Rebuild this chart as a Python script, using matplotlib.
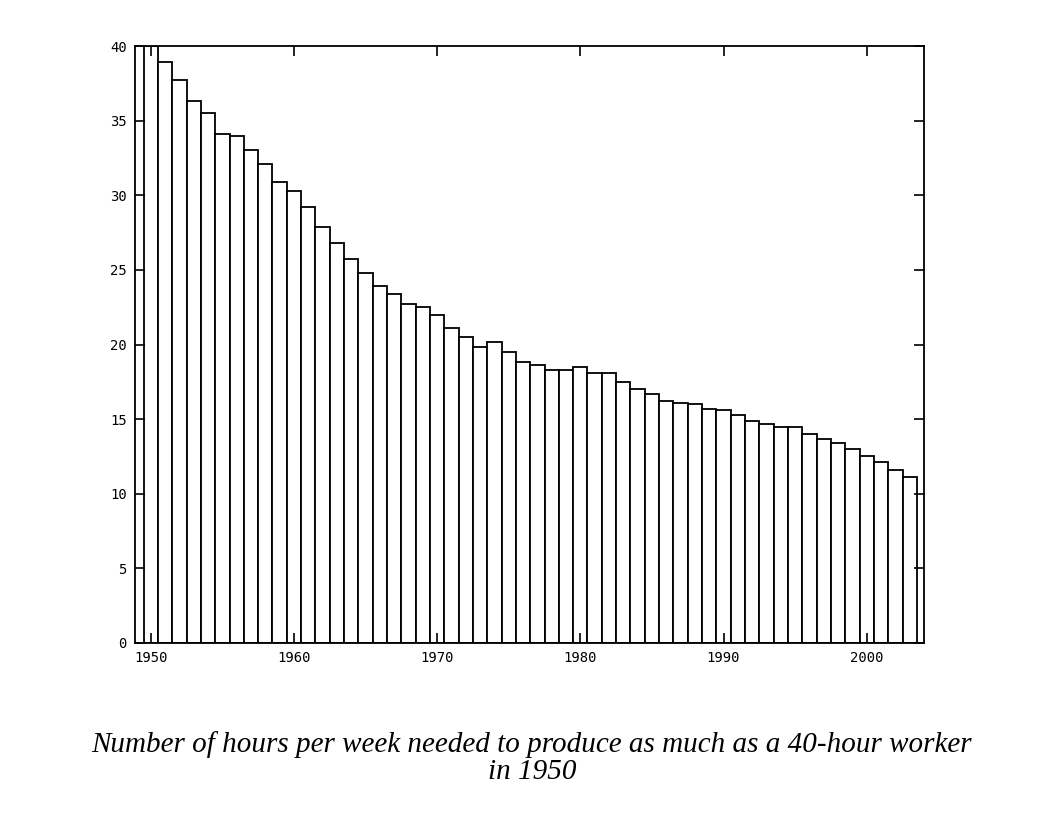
import matplotlib

matplotlib.use('Agg')

import matplotlib.pyplot as plt

# year and hours needed
years = list(range(1950, 2004))
hours = [40.0, 38.9, 37.7, 36.3, 35.5, 34.1, 34.0, 33.0, 32.1, 30.9,
         30.3, 29.2, 27.9, 26.8, 25.7, 24.8, 23.9, 23.4, 22.7, 22.5,
         22.0, 21.1, 20.5, 19.8, 20.2, 19.5, 18.8, 18.6, 18.3, 18.3,
         18.5, 18.1, 18.1, 17.5, 17.0, 16.7, 16.2, 16.1, 16.0, 15.7,
         15.6, 15.3, 14.9, 14.7, 14.5, 14.5, 14.0, 13.7, 13.4, 13.0,
         12.5, 12.1, 11.6, 11.1]
xticks = [1950, 1960, 1970, 1980, 1990, 2000]
yticks = [0, 5, 10, 15, 20, 25, 30, 35, 40]
caption = 'Number of hours per week needed to produce as much as a 40-hour worker\nin 1950'

W, H = 1039, 815
fig = plt.figure(figsize=(W / 100, H / 100), dpi=100)
ax = fig.add_axes([135 / W, 1 - 643 / H, (924 - 135) / W, (643 - 46) / H])

ax.bar(years, hours, width=1.0, facecolor='white', edgecolor='black', linewidth=1.3)

ax.set_xlim(1948.9, 2004.0)
ax.set_ylim(0, 40)
ax.set_xticks(xticks)
ax.set_yticks(yticks)
ax.tick_params(direction='in', length=7, width=1.2, top=True, right=True,
               labelsize=10, pad=6)
for lab in ax.get_xticklabels() + ax.get_yticklabels():
    lab.set_family('DejaVu Sans Mono')
for s in ax.spines.values():
    s.set_linewidth(1.3)

fig.text(0.512, 1 - 758 / H, caption, ha='center', va='center',
         fontsize=21, style='italic', family='Liberation Serif', linespacing=1.05)

fig.savefig('out.png', dpi=100)
